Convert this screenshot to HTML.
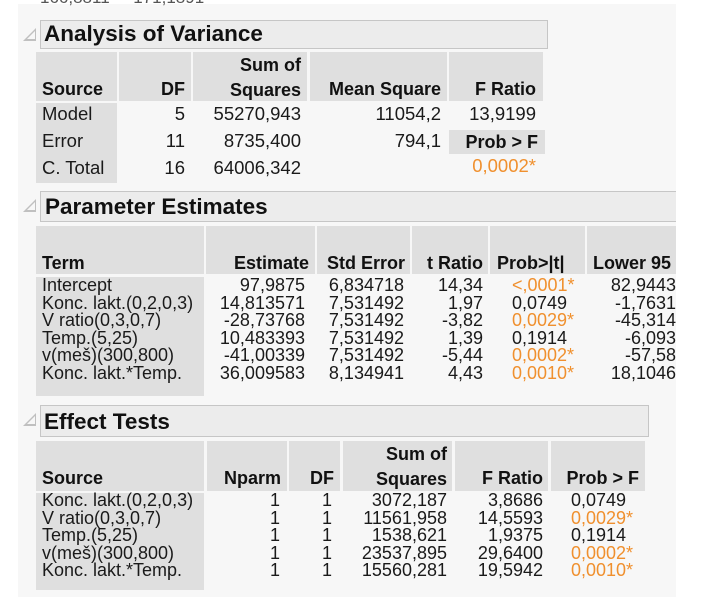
<!DOCTYPE html>
<html><head><meta charset="utf-8"><style>
body{margin:0;width:710px;height:599px;background:#fff;position:relative;overflow:hidden;font-family:"Liberation Sans",sans-serif;color:#222}
.p{position:absolute;left:18px;top:4px;width:658px;height:593px;background:#f7f7f7;overflow:hidden}
.a{position:absolute;white-space:nowrap}
.box{position:absolute;background:#ececec;border:1px solid #c6c6c6;box-sizing:border-box}
.t{position:absolute;font-weight:bold;font-size:22.5px;color:#111}
.tri{position:absolute;width:0;height:0;border-left:13px solid transparent;border-bottom:13px solid #c0c0c0}
.tri:after{content:"";position:absolute;left:-9px;top:3px;border-left:8px solid transparent;border-bottom:8px solid #f7f7f7}
.h{position:absolute;background:#dfdfdf}
.hd{position:absolute;font-weight:bold;font-size:18px;color:#111;white-space:nowrap}
.r{text-align:right}
.c{position:absolute;font-size:18px;white-space:nowrap;line-height:17.5px;color:#1a1a1a}
.o{color:#f0902e}
</style></head><body>
<div class="p">
<div class="h" style="left:569px;top:222px;width:89px;height:48px"></div>
<div class="hd" style="left:575px;top:249px">Lower 95</div>
<div class="c r" style="left:569px;top:273px;width:89px">82,9443<br>-1,7631<br>-45,314<br>-6,093<br>-57,58<br>18,1046</div>
<div class="box" style="left:22px;top:187px;width:660px;height:31px"></div>
<div class="t" style="left:27px;top:190px">Parameter Estimates</div>
</div>
<div class="a" style="left:40px;top:-12px;font-size:17px;color:#555">166,8811 &nbsp;&nbsp;&nbsp;&nbsp;171,1891</div>

<!-- ANOVA -->
<div class="tri" style="left:23px;top:28px"></div>
<div class="box" style="left:40px;top:20px;width:508px;height:29px"></div>
<div class="t" style="left:44px;top:21px">Analysis of Variance</div>
<div class="h" style="left:36px;top:52px;width:81px;height:49px"></div>
<div class="h" style="left:119px;top:52px;width:72px;height:49px"></div>
<div class="h" style="left:193px;top:52px;width:114px;height:49px"></div>
<div class="h" style="left:310px;top:52px;width:137px;height:49px"></div>
<div class="h" style="left:449px;top:52px;width:94px;height:49px"></div>
<div class="h" style="left:36px;top:103px;width:81px;height:80px"></div>
<div class="h" style="left:449px;top:130px;width:96px;height:24px"></div>
<div class="hd" style="left:42px;top:79px">Source</div>
<div class="hd r" style="left:119px;top:79px;width:66px">DF</div>
<div class="hd r" style="left:193px;top:53px;width:108px;line-height:25px">Sum of<br>Squares</div>
<div class="hd r" style="left:310px;top:79px;width:131px">Mean Square</div>
<div class="hd r" style="left:449px;top:79px;width:87px">F Ratio</div>
<div class="hd r" style="left:449px;top:132px;width:89px">Prob &gt; F</div>
<div class="c" style="left:42px;top:100px;line-height:27px;font-size:18.5px">Model<br>Error<br>C. Total</div>
<div class="c r" style="left:119px;top:100px;width:66px;line-height:27px;font-size:18.5px">5<br>11<br>16</div>
<div class="c r" style="left:193px;top:100px;width:108px;line-height:27px;font-size:18.5px">55270,943<br>8735,400<br>64006,342</div>
<div class="c r" style="left:310px;top:100px;width:131px;line-height:27px;font-size:18.5px">11054,2<br>794,1</div>
<div class="c r" style="left:449px;top:100px;width:87px;font-size:18.5px;line-height:27px">13,9199</div>
<div class="c r o" style="left:449px;top:156px;width:87px;font-size:18.5px;line-height:19px">0,0002*</div>

<!-- Parameter Estimates -->
<div class="tri" style="left:23px;top:199px"></div>
<div class="h" style="left:36px;top:226px;width:168px;height:48px"></div>
<div class="h" style="left:206px;top:226px;width:109px;height:48px"></div>
<div class="h" style="left:317px;top:226px;width:93px;height:48px"></div>
<div class="h" style="left:412px;top:226px;width:76px;height:48px"></div>
<div class="h" style="left:490px;top:226px;width:95px;height:48px"></div>
<div class="h" style="left:36px;top:277px;width:168px;height:119px"></div>
<div class="hd" style="left:42px;top:253px">Term</div>
<div class="hd r" style="left:206px;top:253px;width:103px">Estimate</div>
<div class="hd r" style="left:317px;top:253px;width:88px">Std Error</div>
<div class="hd r" style="left:412px;top:253px;width:71px">t Ratio</div>
<div class="hd" style="left:497px;top:253px">Prob&gt;|t|</div>
<div class="c" style="left:42px;top:277px">Intercept<br>Konc. lakt.(0,2,0,3)<br>V ratio(0,3,0,7)<br>Temp.(5,25)<br>v(meš)(300,800)<br>Konc. lakt.*Temp.</div>
<div class="c r" style="left:206px;top:277px;width:99px">97,9875<br>14,813571<br>-28,73768<br>10,483393<br>-41,00339<br>36,009583</div>
<div class="c r" style="left:317px;top:277px;width:87px">6,834718<br>7,531492<br>7,531492<br>7,531492<br>7,531492<br>8,134941</div>
<div class="c r" style="left:412px;top:277px;width:71px">14,34<br>1,97<br>-3,82<br>1,39<br>-5,44<br>4,43</div>
<div class="c" style="left:512px;top:277px"><span class="o">&lt;,0001*</span><br>0,0749<br><span class="o">0,0029*</span><br>0,1914<br><span class="o">0,0002*</span><br><span class="o">0,0010*</span></div>

<!-- Effect Tests -->
<div class="tri" style="left:23px;top:413px"></div>
<div class="box" style="left:40px;top:405px;width:609px;height:32px"></div>
<div class="t" style="left:44px;top:409px">Effect Tests</div>
<div class="h" style="left:36px;top:441px;width:168px;height:50px"></div>
<div class="h" style="left:207px;top:441px;width:80px;height:50px"></div>
<div class="h" style="left:289px;top:441px;width:51px;height:50px"></div>
<div class="h" style="left:343px;top:441px;width:109px;height:50px"></div>
<div class="h" style="left:455px;top:441px;width:93px;height:50px"></div>
<div class="h" style="left:551px;top:441px;width:94px;height:50px"></div>
<div class="h" style="left:36px;top:493px;width:168px;height:97px"></div>
<div class="hd" style="left:42px;top:468px">Source</div>
<div class="hd r" style="left:207px;top:468px;width:74px">Nparm</div>
<div class="hd r" style="left:289px;top:468px;width:45px">DF</div>
<div class="hd r" style="left:343px;top:442px;width:104px;line-height:25px">Sum of<br>Squares</div>
<div class="hd r" style="left:455px;top:468px;width:88px">F Ratio</div>
<div class="hd r" style="left:551px;top:468px;width:88px">Prob &gt; F</div>
<div class="c" style="left:42px;top:492px">Konc. lakt.(0,2,0,3)<br>V ratio(0,3,0,7)<br>Temp.(5,25)<br>v(meš)(300,800)<br>Konc. lakt.*Temp.</div>
<div class="c r" style="left:207px;top:492px;width:73px">1<br>1<br>1<br>1<br>1</div>
<div class="c r" style="left:289px;top:492px;width:43px">1<br>1<br>1<br>1<br>1</div>
<div class="c r" style="left:343px;top:492px;width:104px">3072,187<br>11561,958<br>1538,621<br>23537,895<br>15560,281</div>
<div class="c r" style="left:455px;top:492px;width:88px">3,8686<br>14,5593<br>1,9375<br>29,6400<br>19,5942</div>
<div class="c" style="left:571px;top:492px">0,0749<br><span class="o">0,0029*</span><br>0,1914<br><span class="o">0,0002*</span><br><span class="o">0,0010*</span></div>
</body></html>
